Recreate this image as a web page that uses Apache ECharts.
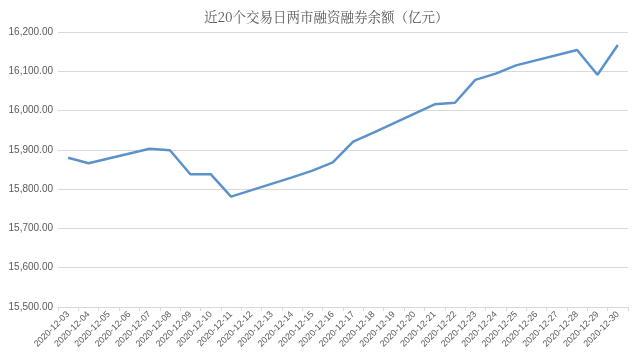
<!DOCTYPE html>
<html>
<head>
<meta charset="utf-8">
<script src="https://cdn.jsdelivr.net/npm/echarts@6/dist/echarts.min.js"></script>
<style>html,body{margin:0;padding:0;background:#fff;}#c{width:640px;height:357px;}</style>
</head>
<body>
<div id="c"></div>
<script>
const titleText = '近20个交易日两市融资融券余额（亿元）';
const dates = ['2020-12-03','2020-12-04','2020-12-05','2020-12-06','2020-12-07','2020-12-08','2020-12-09','2020-12-10','2020-12-11','2020-12-12','2020-12-13','2020-12-14','2020-12-15','2020-12-16','2020-12-17','2020-12-18','2020-12-19','2020-12-20','2020-12-21','2020-12-22','2020-12-23','2020-12-24','2020-12-25','2020-12-26','2020-12-27','2020-12-28','2020-12-29','2020-12-30'];
// null = non-trading day (weekend), line connects across
const balance = [15880,15866,null,null,15903,15899,15838,15838,15781,null,null,15830,15847,15868,15921,15944,null,null,16016,16020,16078,16094,16115,null,null,16154,16091,16167];
const yMin = 15500, yMax = 16200, yStep = 100;

const chart = echarts.init(document.getElementById('c'));
chart.setOption({
  animation: false,
  title: {
    text: titleText, left: 199, top: 5,
    textStyle: { fontFamily: '"Noto Serif CJK SC","Noto Sans CJK SC",serif', fontSize: 13.5, fontWeight: 'normal', color: '#595959' }
  },
  grid: { left: 58, right: 12, top: 32, bottom: 50 },
  xAxis: {
    type: 'category', data: dates, boundaryGap: true,
    axisLine: { lineStyle: { color: '#d9d9d9' } },
    axisTick: { show: true, lineStyle: { color: '#d9d9d9' }, length: 4 },
    axisLabel: { rotate: 45, interval: 0, fontSize: 9, color: '#595959', fontFamily: '"Liberation Sans",Arial,sans-serif', margin: 6 }
  },
  yAxis: {
    type: 'value', min: yMin, max: yMax, interval: yStep,
    axisLine: { show: false }, axisTick: { show: false },
    splitLine: { lineStyle: { color: '#d9d9d9', width: 1 } },
    axisLabel: {
      fontSize: 10, color: '#595959', fontFamily: '"Liberation Sans",Arial,sans-serif', margin: 5,
      formatter: v => v.toLocaleString('en-US', { minimumFractionDigits: 2, maximumFractionDigits: 2 })
    }
  },
  series: [{
    type: 'line', data: balance, connectNulls: true, showSymbol: false, symbol: 'none',
    lineStyle: { color: '#5b93c9', width: 2.5 }
  }]
});
</script>
</body>
</html>
